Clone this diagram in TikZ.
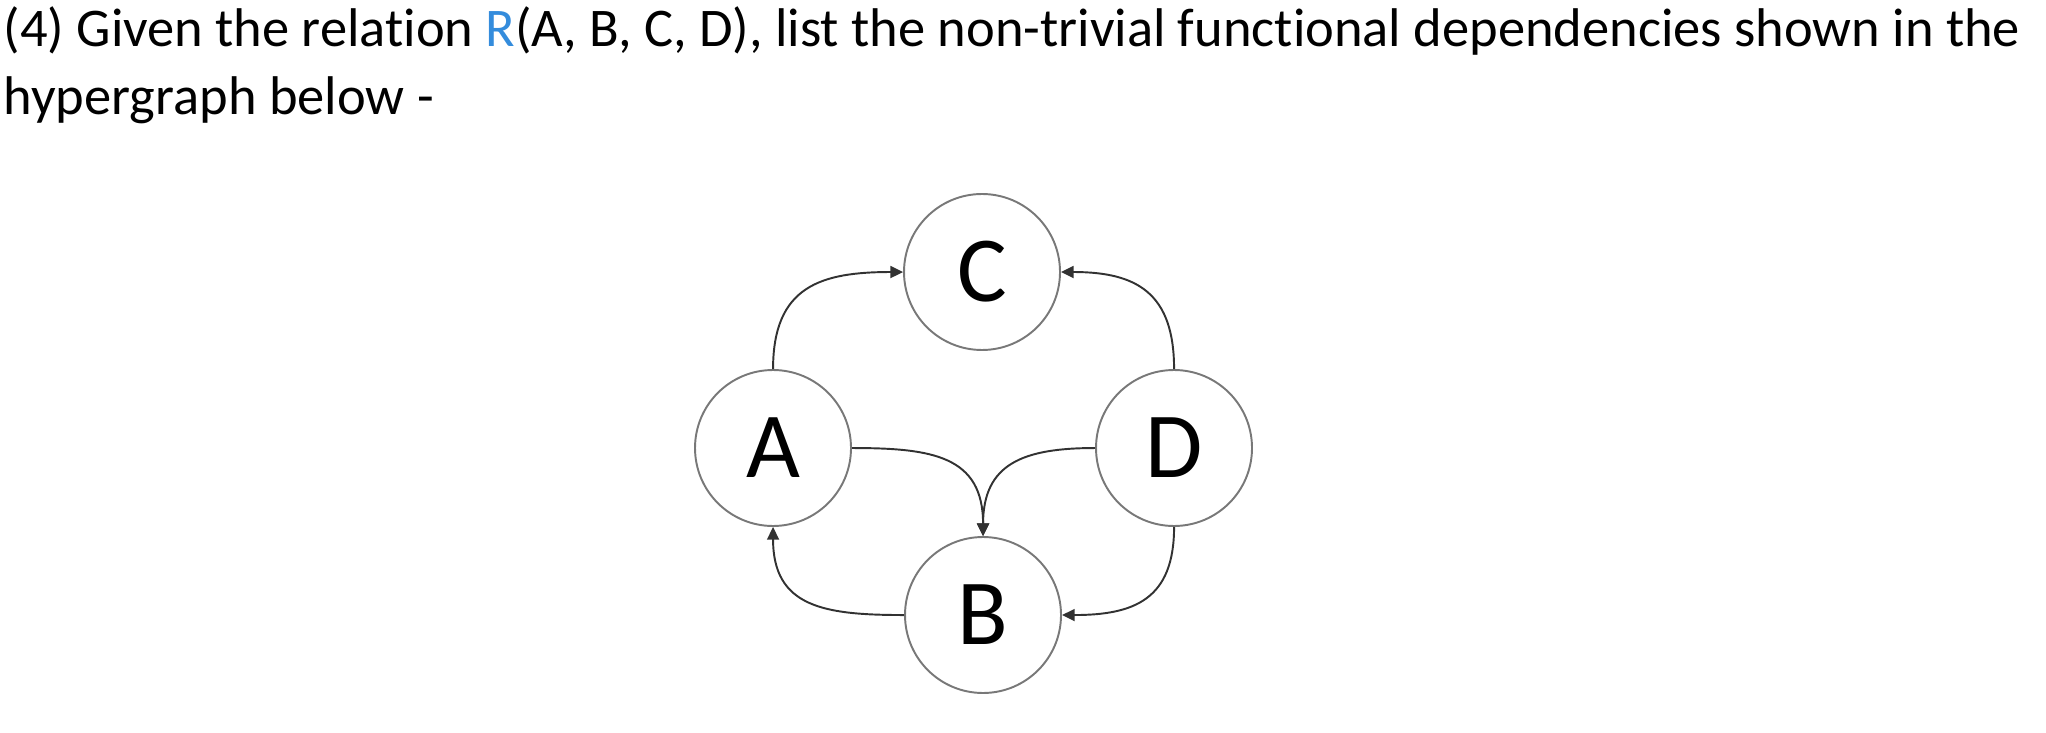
\documentclass[tikz,border=0pt]{standalone}
\usepackage{fontspec}
\setmainfont{Carlito}[Ligatures=NoCommon]
\usetikzlibrary{arrows.meta}
\definecolor{relblue}{RGB}{52,140,220}
\definecolor{ringgray}{RGB}{120,120,120}
\definecolor{edgegray}{RGB}{50,50,50}

\begin{document}
\begin{tikzpicture}[scale=0.1]
                          \tikzstyle{every node}+=[inner sep=0pt]
                          \tikzstyle{attr}=[draw=ringgray, line width=0.55pt, circle, minimum size=1.56cm, font=\fontsize{26.5}{30}\selectfont]
                          \tikzstyle{fd}=[draw=edgegray, line width=0.55pt, looseness=1.3, -{Triangle[length=3.6pt,width=3.4pt]}]
                          \useasboundingbox (0,0) rectangle (204.6,-73.3);
                          \draw (0.3,-4.7) node [anchor=base west, font=\fontsize{15.5}{18}\selectfont] (line1) {(4) Given the relation \textcolor{relblue}{R}(A, B, C, D), list the non-trivial functional dependencies shown in the};
                          \draw (0.3,-11.5) node [anchor=base west, font=\fontsize{15.5}{18}\selectfont] (line2) {hypergraph below -};
                          \draw (98.2,-27.2) node [attr] (C) {C};
                          \draw (77.3,-44.8) node [attr] (A) {A};
                          \draw (117.4,-44.8) node [attr] (D) {D};
                          \draw (98.3,-61.5) node [attr] (B) {B};
                          \draw [fd] (A.north) to [out=90, in=180] (C.west);
                          \draw [fd] (D.north) to [out=90, in=0] (C.east);
                          \draw [fd] (A.east) to [out=0, in=90] (B.north);
                          \draw [fd] (D.west) to [out=180, in=90] (B.north);
                          \draw [fd] (D.south) to [out=-90, in=0] (B.east);
                          \draw [fd] (B.west) to [out=180, in=-90] (A.south);
                      \end{tikzpicture}
\end{document}
